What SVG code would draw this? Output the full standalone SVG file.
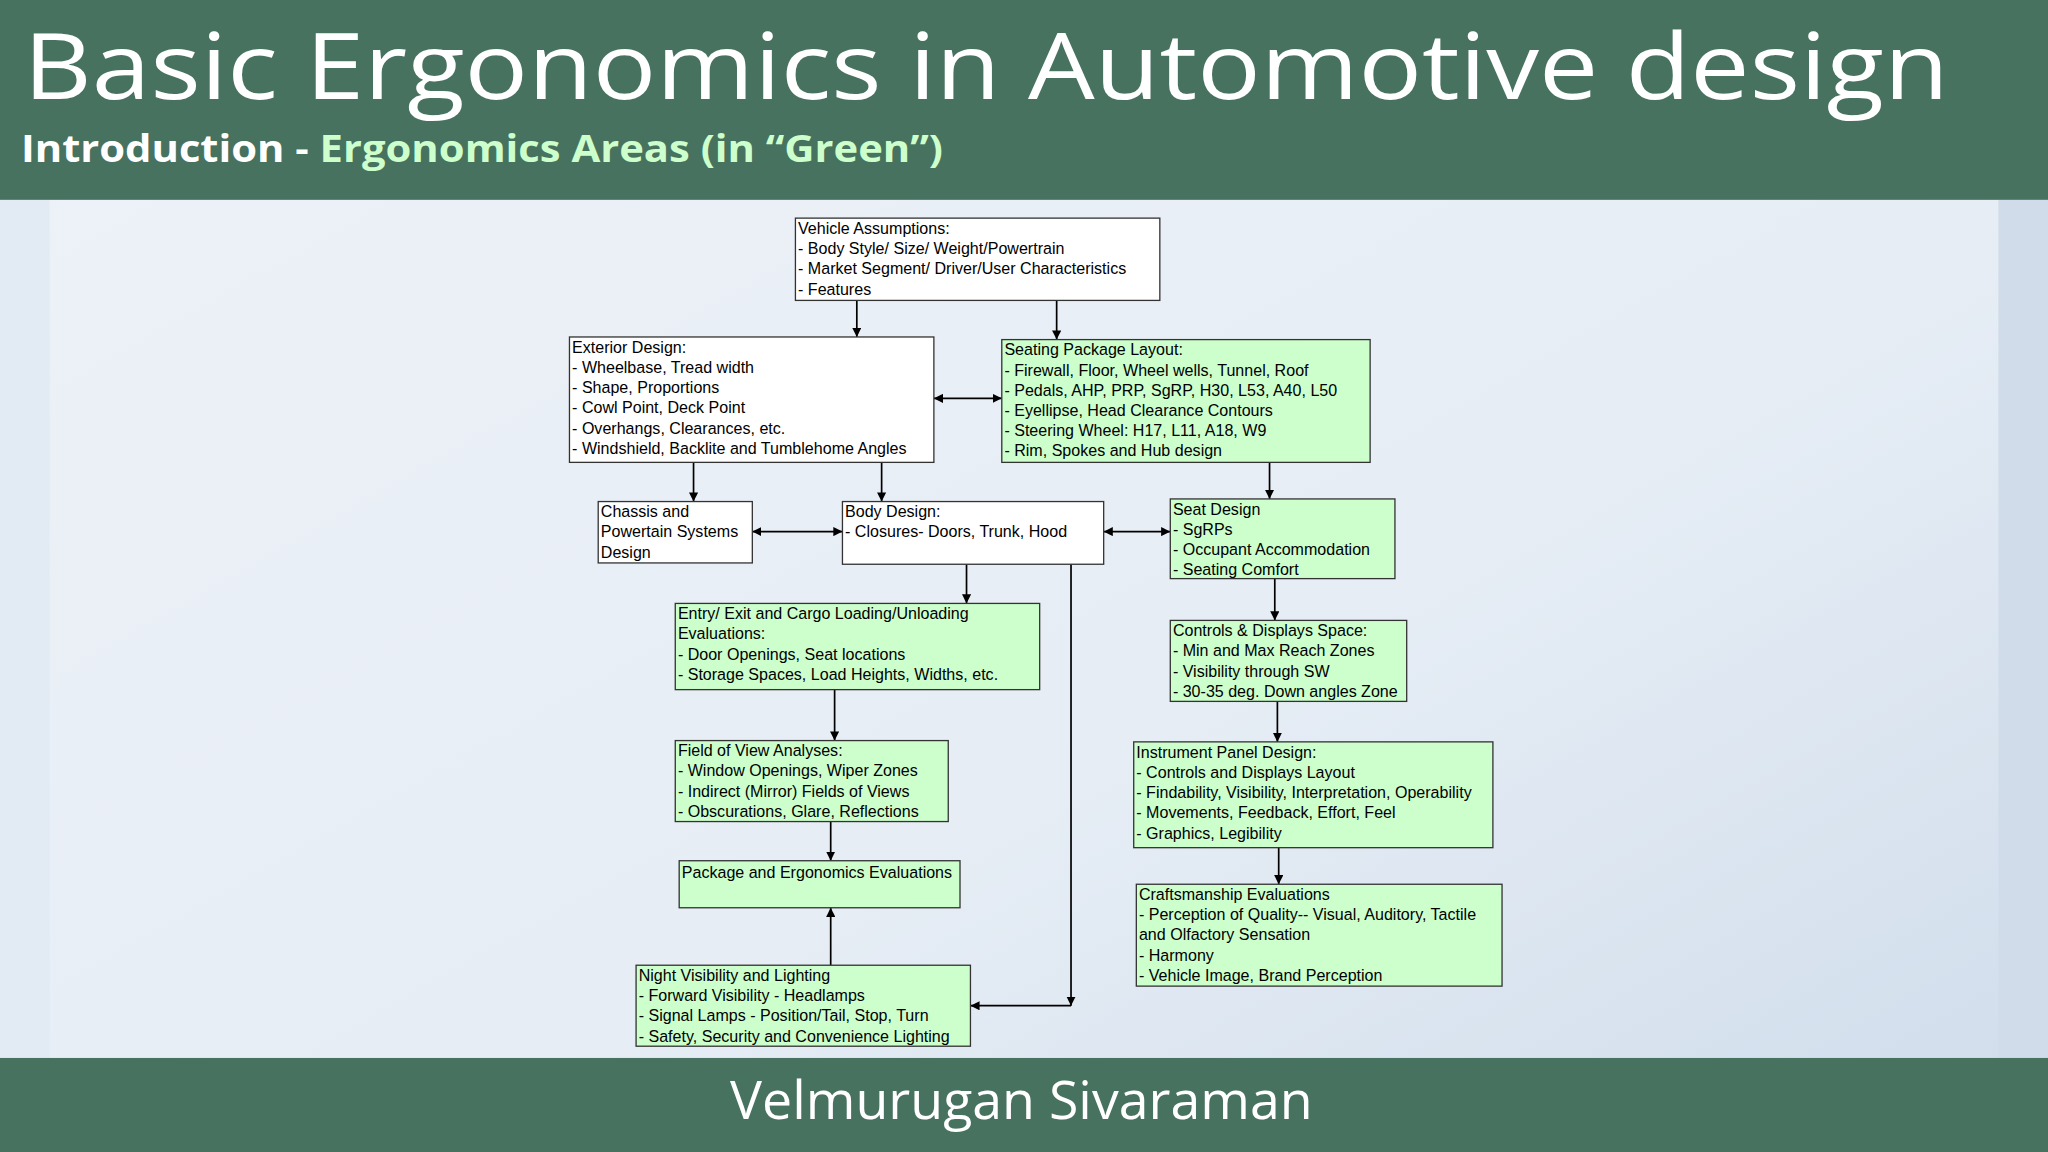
<svg xmlns="http://www.w3.org/2000/svg" width="2048" height="1152" viewBox="0 0 2048 1152">
<defs>
<linearGradient id="bg" x1="0" y1="0" x2="1" y2="1">
<stop offset="0" stop-color="#eef2f8"/><stop offset="0.6" stop-color="#e6edf5"/><stop offset="1" stop-color="#cfdceb"/>
</linearGradient>
<marker id="ah" viewBox="0 0 10 10" refX="10" refY="5" markerWidth="7" markerHeight="7" orient="auto-start-reverse" markerUnits="userSpaceOnUse"><path d="M0,0 L10,5 L0,10 z" fill="#000"/></marker>
<style>
.w{fill:#fff;stroke:#333;stroke-width:1}
.g{fill:#ccffcc;stroke:#333;stroke-width:1}
.t{font-family:"Liberation Sans",Arial,sans-serif;font-size:12.3px;fill:#000}
.c{stroke:#000;stroke-width:1.3;fill:none}
</style>
</defs>
<g transform="scale(1.306122)">
<rect x="0" y="0" width="1568" height="882" fill="url(#bg)"/>
<rect x="0" y="153" width="38" height="657" fill="#e2eaf3"/>
<rect x="1530" y="153" width="38" height="657" fill="#d0dcea"/>
<rect x="0" y="0" width="1568" height="153" fill="#47725f"/>
<rect x="0" y="810" width="1568" height="72" fill="#47725f"/>
<text x="18" y="76" font-family="'Open Sans',sans-serif" font-size="70" fill="#fff" textLength="1474" lengthAdjust="spacingAndGlyphs">Basic Ergonomics in Automotive design</text>
<text x="16" y="124" font-family="'Open Sans',sans-serif" font-weight="bold" font-size="29" fill="#fff" textLength="706" lengthAdjust="spacingAndGlyphs">Introduction - <tspan fill="#ccffcc">Ergonomics Areas (in “Green”)</tspan></text>
<text x="782" y="857" text-anchor="middle" font-family="'Open Sans',sans-serif" font-size="40" fill="#fff" textLength="446" lengthAdjust="spacingAndGlyphs">Velmurugan Sivaraman</text>

<g id="connectors">
<line class="c" x1="656" y1="230" x2="656" y2="258" marker-end="url(#ah)"/>
<line class="c" x1="809" y1="230" x2="809" y2="260" marker-end="url(#ah)"/>
<line class="c" x1="715" y1="305" x2="767" y2="305" marker-start="url(#ah)" marker-end="url(#ah)"/>
<line class="c" x1="531" y1="354" x2="531" y2="384" marker-end="url(#ah)"/>
<line class="c" x1="675" y1="354" x2="675" y2="384" marker-end="url(#ah)"/>
<line class="c" x1="576" y1="407" x2="645" y2="407" marker-start="url(#ah)" marker-end="url(#ah)"/>
<line class="c" x1="845" y1="407" x2="896" y2="407" marker-start="url(#ah)" marker-end="url(#ah)"/>
<line class="c" x1="972" y1="354" x2="972" y2="382" marker-end="url(#ah)"/>
<line class="c" x1="740" y1="432" x2="740" y2="462" marker-end="url(#ah)"/>
<line class="c" x1="976" y1="443" x2="976" y2="475" marker-end="url(#ah)"/>
<line class="c" x1="639" y1="528" x2="639" y2="567" marker-end="url(#ah)"/>
<line class="c" x1="978" y1="537" x2="978" y2="568" marker-end="url(#ah)"/>
<line class="c" x1="636" y1="629" x2="636" y2="659" marker-end="url(#ah)"/>
<line class="c" x1="979" y1="649" x2="979" y2="677" marker-end="url(#ah)"/>
<line class="c" x1="636" y1="739" x2="636" y2="695" marker-end="url(#ah)"/>
<line class="c" x1="820" y1="432" x2="820" y2="770" marker-end="url(#ah)"/>
<line class="c" x1="820" y1="770" x2="743" y2="770" marker-end="url(#ah)"/>
</g>

<g id="vehicle"><rect class="w" x="609" y="167" width="279" height="63"/>
<text class="t" x="611" y="179"><tspan x="611">Vehicle Assumptions:</tspan><tspan x="611" dy="15.5">- Body Style/ Size/ Weight/Powertrain</tspan><tspan x="611" dy="15.5">- Market Segment/ Driver/User Characteristics</tspan><tspan x="611" dy="15.5">- Features</tspan></text></g>

<g id="exterior"><rect class="w" x="436" y="258" width="279" height="96"/>
<text class="t" y="270"><tspan x="438">Exterior Design:</tspan><tspan x="438" dy="15.5">- Wheelbase, Tread width</tspan><tspan x="438" dy="15.5">- Shape, Proportions</tspan><tspan x="438" dy="15.5">- Cowl Point, Deck Point</tspan><tspan x="438" dy="15.5">- Overhangs, Clearances, etc.</tspan><tspan x="438" dy="15.5">- Windshield, Backlite and Tumblehome Angles</tspan></text></g>

<g id="seating"><rect class="g" x="767" y="260" width="282" height="94"/>
<text class="t" y="272"><tspan x="769">Seating Package Layout:</tspan><tspan x="769" dy="15.5">- Firewall, Floor, Wheel wells, Tunnel, Roof</tspan><tspan x="769" dy="15.5">- Pedals, AHP, PRP, SgRP, H30, L53, A40, L50</tspan><tspan x="769" dy="15.5">- Eyellipse, Head Clearance Contours</tspan><tspan x="769" dy="15.5">- Steering Wheel: H17, L11, A18, W9</tspan><tspan x="769" dy="15.5">- Rim, Spokes and Hub design</tspan></text></g>

<g id="chassis"><rect class="w" x="458" y="384" width="118" height="47"/>
<text class="t" y="396"><tspan x="460">Chassis and</tspan><tspan x="460" dy="15.5">Powertain Systems</tspan><tspan x="460" dy="15.5">Design</tspan></text></g>

<g id="body"><rect class="w" x="645" y="384" width="200" height="48"/>
<text class="t" y="396"><tspan x="647">Body Design:</tspan><tspan x="647" dy="15.5">- Closures- Doors, Trunk, Hood</tspan></text></g>

<g id="seat"><rect class="g" x="896" y="382" width="172" height="61"/>
<text class="t" y="394"><tspan x="898">Seat Design</tspan><tspan x="898" dy="15.5">- SgRPs</tspan><tspan x="898" dy="15.5">- Occupant Accommodation</tspan><tspan x="898" dy="15.5">- Seating Comfort</tspan></text></g>

<g id="entry"><rect class="g" x="517" y="462" width="279" height="66"/>
<text class="t" y="474"><tspan x="519">Entry/ Exit and Cargo Loading/Unloading</tspan><tspan x="519" dy="15.5">Evaluations:</tspan><tspan x="519" dy="15.5">- Door Openings, Seat locations</tspan><tspan x="519" dy="15.5">- Storage Spaces, Load Heights, Widths, etc.</tspan></text></g>

<g id="controls"><rect class="g" x="896" y="475" width="181" height="62"/>
<text class="t" y="487"><tspan x="898">Controls &amp; Displays Space:</tspan><tspan x="898" dy="15.5">- Min and Max Reach Zones</tspan><tspan x="898" dy="15.5">- Visibility through SW</tspan><tspan x="898" dy="15.5">- 30-35 deg. Down angles Zone</tspan></text></g>

<g id="fov"><rect class="g" x="517" y="567" width="209" height="62"/>
<text class="t" y="579"><tspan x="519">Field of View Analyses:</tspan><tspan x="519" dy="15.5">- Window Openings, Wiper Zones</tspan><tspan x="519" dy="15.5">- Indirect (Mirror) Fields of Views</tspan><tspan x="519" dy="15.5">- Obscurations, Glare, Reflections</tspan></text></g>

<g id="instrument"><rect class="g" x="868" y="568" width="275" height="81"/>
<text class="t" y="580"><tspan x="870">Instrument Panel Design:</tspan><tspan x="870" dy="15.5">- Controls and Displays Layout</tspan><tspan x="870" dy="15.5">- Findability, Visibility, Interpretation, Operability</tspan><tspan x="870" dy="15.5">- Movements, Feedback, Effort, Feel</tspan><tspan x="870" dy="15.5">- Graphics, Legibility</tspan></text></g>

<g id="package"><rect class="g" x="520" y="659" width="215" height="36"/>
<text class="t" x="522" y="672">Package and Ergonomics Evaluations</text></g>

<g id="craft"><rect class="g" x="870" y="677" width="280" height="78"/>
<text class="t" y="689"><tspan x="872">Craftsmanship Evaluations</tspan><tspan x="872" dy="15.5">- Perception of Quality-- Visual, Auditory, Tactile</tspan><tspan x="872" dy="15.5">and Olfactory Sensation</tspan><tspan x="872" dy="15.5">- Harmony</tspan><tspan x="872" dy="15.5">- Vehicle Image, Brand Perception</tspan></text></g>

<g id="night"><rect class="g" x="487" y="739" width="256" height="62"/>
<text class="t" y="751"><tspan x="489">Night Visibility and Lighting</tspan><tspan x="489" dy="15.5">- Forward Visibility - Headlamps</tspan><tspan x="489" dy="15.5">- Signal Lamps - Position/Tail, Stop, Turn</tspan><tspan x="489" dy="15.5">- Safety, Security and Convenience Lighting</tspan></text></g>
</g>
</svg>
